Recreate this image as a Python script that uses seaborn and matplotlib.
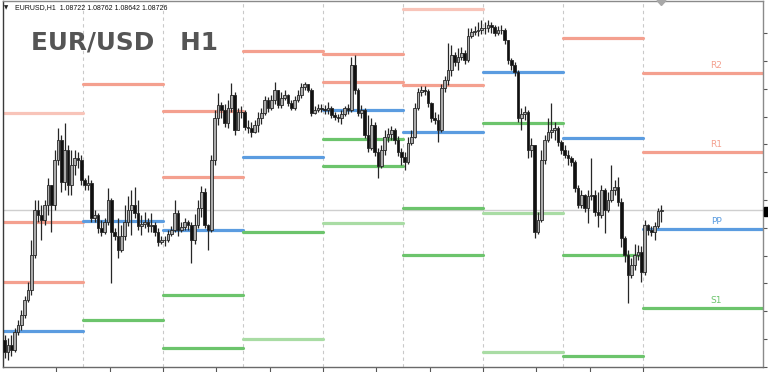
import numpy as np
import pandas as pd
import matplotlib
matplotlib.use("Agg")
import matplotlib.pyplot as plt
from matplotlib.patches import Rectangle, Polygon
import seaborn as sns

sns.set_theme(style="white")
plt.rcParams['font.family'] = ['DejaVu Sans']

# ---------------- data ----------------
header = "EURUSD,H1  1.08722 1.08762 1.08642 1.08726"
title = "EUR/USD   H1"
first_open = 1.07792
bid = 1.08726

close = [
    # day 1
    1.07706, 1.07756, 1.07720, 1.07850, 1.07900, 1.07972, 1.08080, 1.08152, 1.08404, 1.08728, 1.08692, 1.08656,
    1.08764, 1.08908, 1.08764, 1.09088, 1.09232, 1.08930, 1.09160, 1.08908, 1.09052, 1.09102, 1.09088, 1.08944,
    # day 2
    1.08908, 1.08922, 1.08670, 1.08692, 1.08598, 1.08570, 1.08642, 1.08800, 1.08570, 1.08541, 1.08440, 1.08541,
    1.08642, 1.08728, 1.08764, 1.08706, 1.08613, 1.08627, 1.08642, 1.08613, 1.08620, 1.08570, 1.08498, 1.08512,
    # day 3
    1.08512, 1.08555, 1.08584, 1.08706, 1.08584, 1.08606, 1.08642, 1.08620, 1.08512, 1.08620, 1.08742, 1.08858,
    1.08620, 1.08584, 1.09088, 1.09390, 1.09484, 1.09448, 1.09354, 1.09462, 1.09556, 1.09304, 1.09434, 1.09434,
    # day 4
    1.09326, 1.09318, 1.09290, 1.09340, 1.09390, 1.09426, 1.09520, 1.09462, 1.09520, 1.09592, 1.09484, 1.09534,
    1.09556, 1.09498, 1.09462, 1.09520, 1.09556, 1.09614, 1.09635, 1.09592, 1.09426, 1.09448, 1.09462, 1.09455,
    # day 5
    1.09448, 1.09462, 1.09412, 1.09398, 1.09390, 1.09419, 1.09462, 1.09448, 1.09772, 1.09592, 1.09426, 1.09448,
    1.09268, 1.09174, 1.09340, 1.09146, 1.09045, 1.09160, 1.09254, 1.09275, 1.09304, 1.09232, 1.09146, 1.09110,
    # day 6
    1.09074, 1.09210, 1.09254, 1.09462, 1.09578, 1.09592, 1.09585, 1.09498, 1.09390, 1.09376, 1.09304, 1.09606,
    1.09664, 1.09736, 1.09844, 1.09794, 1.09830, 1.09858, 1.09808, 1.09981, 1.10010, 1.10017, 1.10024, 1.10038,
    # day 7
    1.10038, 1.10060, 1.10046, 1.10002, 1.10024, 1.10024, 1.09952, 1.09808, 1.09772, 1.09722, 1.09390, 1.09419,
    1.09434, 1.09160, 1.09196, 1.08570, 1.08656, 1.09088, 1.09232, 1.09290, 1.09304, 1.09318, 1.09218, 1.09160,
    # day 8
    1.09124, 1.09102, 1.09074, 1.08886, 1.08764, 1.08836, 1.08742, 1.08829, 1.08836, 1.08714, 1.08692, 1.08872,
    1.08728, 1.08800, 1.08872, 1.08894, 1.08786, 1.08526, 1.08404, 1.08260, 1.08332, 1.08404, 1.08426, 1.08282,
    # day 9
    1.08620, 1.08584, 1.08570, 1.08613, 1.08722, 1.08726,
]
high = [
    1.07828, 1.07806, 1.07828, 1.07878, 1.07936, 1.08008, 1.08109, 1.08210, 1.08512, 1.08800, 1.08800, 1.08764,
    1.08800, 1.08958, 1.08908, 1.09160, 1.09318, 1.09268, 1.09354, 1.09196, 1.09160, 1.09160, 1.09146, 1.09124,
    1.08958, 1.08980, 1.08944, 1.08728, 1.08706, 1.08656, 1.08670, 1.08886, 1.08814, 1.08598, 1.08670, 1.08620,
    1.08764, 1.08829, 1.08872, 1.08894, 1.08800, 1.08692, 1.08714, 1.08670, 1.08706, 1.08642, 1.08598, 1.08541,
    1.08541, 1.08584, 1.08613, 1.08800, 1.08728, 1.08642, 1.08670, 1.08656, 1.08642, 1.08699, 1.08800, 1.08901,
    1.08886, 1.08627, 1.09124, 1.09448, 1.09570, 1.09506, 1.09491, 1.09520, 1.09642, 1.09578, 1.09462, 1.09477,
    1.09448, 1.09376, 1.09362, 1.09376, 1.09434, 1.09462, 1.09549, 1.09542, 1.09556, 1.09650, 1.09592, 1.09578,
    1.09592, 1.09563, 1.09520, 1.09549, 1.09592, 1.09642, 1.09650, 1.09635, 1.09606, 1.09477, 1.09491, 1.09491,
    1.09484, 1.09506, 1.09477, 1.09434, 1.09419, 1.09448, 1.09477, 1.09491, 1.09830, 1.09844, 1.09606, 1.09484,
    1.09462, 1.09412, 1.09390, 1.09362, 1.09174, 1.09196, 1.09304, 1.09318, 1.09333, 1.09318, 1.09261, 1.09174,
    1.09146, 1.09254, 1.09304, 1.09498, 1.09606, 1.09621, 1.09621, 1.09599, 1.09506, 1.09434, 1.09419, 1.09635,
    1.09693, 1.09930, 1.09916, 1.09866, 1.09894, 1.09902, 1.09880, 1.10038, 1.10038, 1.10053, 1.10082, 1.10096,
    1.10082, 1.10096, 1.10082, 1.10060, 1.10053, 1.10060, 1.10038, 1.09952, 1.09822, 1.09794, 1.09736, 1.09462,
    1.09477, 1.09448, 1.09246, 1.09196, 1.08714, 1.09160, 1.09268, 1.09390, 1.09498, 1.09362, 1.09333, 1.09232,
    1.09196, 1.09160, 1.09117, 1.09088, 1.08908, 1.08872, 1.08843, 1.08872, 1.09102, 1.08872, 1.08858, 1.08908,
    1.08886, 1.08858, 1.09052, 1.08944, 1.08966, 1.08814, 1.08541, 1.08440, 1.08382, 1.08483, 1.08476, 1.08469,
    1.08656, 1.08627, 1.08613, 1.08642, 1.08742, 1.08762,
]
low = [
    1.07662, 1.07648, 1.07677, 1.07706, 1.07828, 1.07864, 1.07950, 1.08066, 1.08116, 1.08380, 1.08642, 1.08512,
    1.08620, 1.08692, 1.08570, 1.08728, 1.09052, 1.08858, 1.08872, 1.08836, 1.08836, 1.08980, 1.09030, 1.08908,
    1.08872, 1.08872, 1.08642, 1.08642, 1.08562, 1.08541, 1.08555, 1.08620, 1.08202, 1.08512, 1.08382, 1.08426,
    1.08512, 1.08613, 1.08548, 1.08670, 1.08584, 1.08548, 1.08598, 1.08570, 1.08570, 1.08541, 1.08469, 1.08483,
    1.08469, 1.08498, 1.08541, 1.08570, 1.08541, 1.08570, 1.08584, 1.08584, 1.08346, 1.08483, 1.08598, 1.08678,
    1.08598, 1.08440, 1.08570, 1.09052, 1.09340, 1.09390, 1.09326, 1.09318, 1.09434, 1.09268, 1.09304, 1.09390,
    1.09304, 1.09282, 1.09254, 1.09282, 1.09290, 1.09347, 1.09412, 1.09434, 1.09448, 1.09491, 1.09462, 1.09462,
    1.09520, 1.09477, 1.09448, 1.09448, 1.09506, 1.09534, 1.09592, 1.09578, 1.09405, 1.09419, 1.09434, 1.09434,
    1.09419, 1.09419, 1.09390, 1.09376, 1.09362, 1.09347, 1.09405, 1.09419, 1.09434, 1.09563, 1.09405, 1.09390,
    1.09246, 1.09146, 1.09160, 1.09117, 1.08958, 1.09030, 1.09124, 1.09218, 1.09232, 1.09203, 1.09117, 1.09052,
    1.09016, 1.09060, 1.09196, 1.09246, 1.09448, 1.09549, 1.09556, 1.09470, 1.09362, 1.09347, 1.09218, 1.09290,
    1.09578, 1.09628, 1.09693, 1.09765, 1.09736, 1.09808, 1.09779, 1.09794, 1.09966, 1.09988, 1.09981, 1.09995,
    1.09995, 1.10010, 1.10002, 1.09981, 1.09988, 1.09995, 1.09923, 1.09779, 1.09736, 1.09693, 1.09362, 1.09304,
    1.09376, 1.09102, 1.09110, 1.08526, 1.08555, 1.08642, 1.09060, 1.09218, 1.09246, 1.09232, 1.09189, 1.09131,
    1.09102, 1.09052, 1.09045, 1.08858, 1.08742, 1.08742, 1.08714, 1.08634, 1.08800, 1.08685, 1.08606, 1.08670,
    1.08562, 1.08714, 1.08786, 1.08836, 1.08757, 1.08462, 1.08354, 1.08058, 1.08238, 1.08296, 1.08368, 1.08210,
    1.08260, 1.08548, 1.08541, 1.08512, 1.08598, 1.08642,
]

# daily pivot levels (one value per day, NaN = off chart)
nan = np.nan
pp = [1.07857, 1.08649, 1.08584, 1.09110, 1.09448, 1.09287, 1.09719, 1.09246, 1.08591]
r1 = [1.08210, 1.09635, 1.08966, 1.09873, 1.09650, 1.09630, nan, 1.09969, 1.09146]
r2 = [1.08642, nan, 1.09441, nan, 1.09851, nan, nan, nan, 1.09714]
r3 = [1.09426, nan, nan, nan, nan, 1.10172, nan, nan, nan]
s1 = [nan, 1.07936, 1.08116, 1.08570, 1.09239, 1.08745, 1.09354, 1.08404, 1.08022]
s2 = [nan, nan, 1.07734, 1.07799, 1.09045, 1.08404, 1.08709, 1.07679, nan]
s3 = [nan, nan, nan, nan, 1.08637, nan, 1.07706, nan, nan]
last_day_labels = {"R2": "r2", "R1": "r1", "PP": "pp", "S1": "s1"}

# ---------------- styling ----------------
HOURS = 24
XMAX = 228
col = {"r": "#f4a08f", "r_f": "#f8c4b9", "pp": "#5b9ce0", "s": "#6cc46c", "s_f": "#a9dca4"}
faint = {("s2", 6), ("s2", 3)}

opens = [first_open] + close[:-1]
n = len(close)
x = np.arange(n) + 0.5
df = pd.DataFrame({"x": x, "open": opens, "high": high, "low": low, "close": close})
df["bull"] = df["close"] >= df["open"]

levels = {"r1": r1, "r2": r2, "r3": r3, "pp": pp, "s1": s1, "s2": s2, "s3": s3}
rows = []
seg = 0
ndays = len(pp)
for name, vals in levels.items():
    for d, v in enumerate(vals):
        if np.isnan(v):
            continue
        if name == "pp":
            style = "pp"
        elif name.startswith("r"):
            style = "r_f" if (name == "r3" or (name, d) in faint) else "r"
        else:
            style = "s_f" if (name == "s3" or (name, d) in faint) else "s"
        x0 = d * HOURS
        x1 = XMAX if d == ndays - 1 else (d + 1) * HOURS
        rows.append({"x": x0, "price": v, "style": style, "seg": seg})
        rows.append({"x": x1, "price": v, "style": style, "seg": seg})
        seg += 1
piv = pd.DataFrame(rows)

fig = plt.figure(figsize=(7.68, 3.72), dpi=100)
ax = fig.add_axes([3 / 768, 5 / 372, 760 / 768, 366 / 372])
ax.set_facecolor("white")

# day separators + bid line
for d in range(1, ndays):
    ax.axvline(d * HOURS, color="#c9c9c9", lw=0.8, ls=(0, (3, 3)), zorder=0)
ax.axhline(bid, color="#cfcfcf", lw=1.0, zorder=1)

sns.lineplot(data=piv, x="x", y="price", hue="style", units="seg", estimator=None,
             palette=col, lw=2.3, legend=False, ax=ax, zorder=2)

# candles
ax.vlines(df["x"], df["low"], df["high"], color="#262626", lw=0.9, zorder=3)
body_lo = np.minimum(df["open"], df["close"])
body_h = np.maximum(np.abs(df["close"] - df["open"]), 0.00003)
ax.bar(df["x"], body_h, bottom=body_lo, width=0.72,
       color=np.where(df["bull"], "#ababab", "#111111"),
       edgecolor="#262626", linewidth=0.6, zorder=4)

# labels on the current day
for lab, key in last_day_labels.items():
    v = levels[key][-1]
    c = col["pp"] if key == "pp" else (col["r"] if key.startswith("r") else col["s"])
    ax.annotate(lab, (214, v), xytext=(0, 2.5), textcoords="offset points",
                ha="center", va="bottom", fontsize=6.5, color=c, zorder=5)

ax.set_xlim(0, XMAX)
ax.set_ylim(1.07598, 1.10233)
ax.set_xlabel("")
ax.set_ylabel("")
ax.set_xticks(np.arange(16, 193, 16))
ax.set_yticks(np.arange(1.0760, 1.10005, 0.0020))
ax.yaxis.tick_right()
ax.tick_params(axis="x", bottom=True, direction="out", length=4, width=0.8,
               color="#555555", labelbottom=False)
ax.tick_params(axis="y", right=True, left=False, direction="out", length=3, width=0.8,
               color="#555555", labelright=False, labelleft=False)
for s in ax.spines.values():
    s.set_visible(True)
    s.set_color("#8a8a8a")
    s.set_linewidth(1.0)
ax.spines["left"].set_color("#3a3a3a")
ax.spines["bottom"].set_color("#6a6a6a")

# header texts
fig.text(4 / 768, 1 - 8 / 372, "\u25BC", fontsize=4, color="#222222", va="center")
fig.text(15 / 768, 1 - 8 / 372, header, fontsize=5.0, color="#111111", va="center",
         family=["Liberation Sans", "DejaVu Sans"])
fig.text(31 / 768, 1 - 50 / 372, title, fontsize=17.8, fontweight="bold",
         color="#555555", va="baseline")

# shift marker and price marker
fig.patches.append(Polygon([(657 / 768, 1 - 0.5 / 372), (666 / 768, 1 - 0.5 / 372),
                            (661.5 / 768, 1 - 5.5 / 372)], closed=True,
                           transform=fig.transFigure, color="#a8a8a8"))
fig.patches.append(Rectangle((764 / 768, 1 - 216 / 372), 4 / 768, 9 / 372,
                             transform=fig.transFigure, color="black"))

fig.savefig("out.png", dpi=100)
